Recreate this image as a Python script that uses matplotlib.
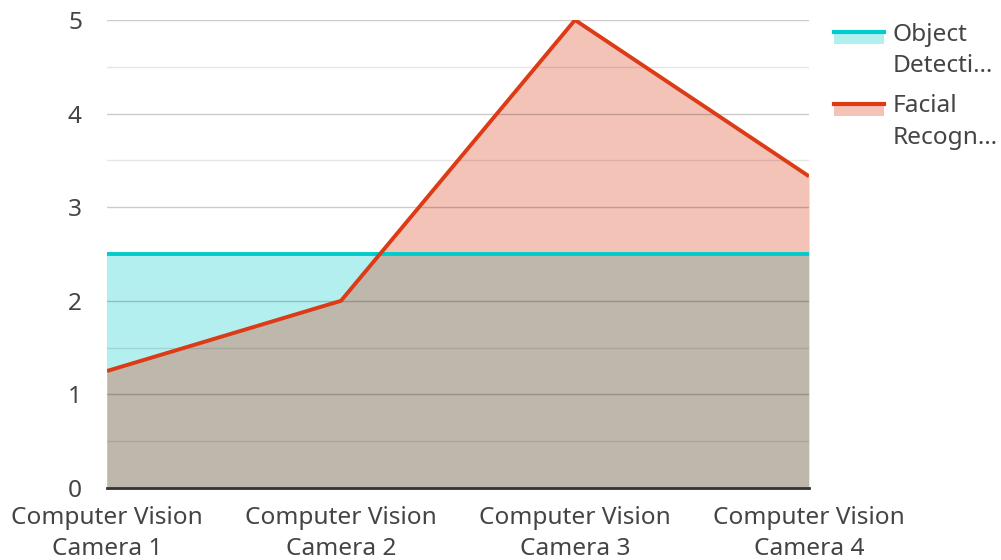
import numpy as np
import matplotlib.pyplot as plt
from matplotlib.lines import Line2D
from matplotlib.patches import Rectangle

plt.rcParams['font.family'] = ['Noto Sans', 'DejaVu Sans']

# data
cameras = ['Computer Vision\nCamera 1', 'Computer Vision\nCamera 2',
           'Computer Vision\nCamera 3', 'Computer Vision\nCamera 4']
object_detection = [2.5, 2.5, 2.5, 2.5]
facial_recognition = [1.25, 2.0, 5.0, 3.33]
series_names = ['Object\nDetecti…', 'Facial\nRecogn…']

teal = '#00CCCC'
teal_fill = '#B2EFEE'
red = '#DD3A16'
red_fill = '#F3C3B8'
overlap_fill = '#BEB7AC'
text_col = '#444444'
fs = 17.6

fig = plt.figure(figsize=(10.01, 5.6), dpi=100)
ax = fig.add_axes([107 / 1001, 1 - 488 / 560, (809 - 107) / 1001, (488 - 20) / 560])

x = np.arange(len(cameras))

# both areas, then the overlap = red area clipped to the teal area
teal_area = ax.fill_between(x, 0, object_detection, color=teal_fill, lw=0, zorder=1)
ax.fill_between(x, 0, facial_recognition, color=red_fill, lw=0, zorder=1)
overlap = ax.fill_between(x, 0, facial_recognition, color=overlap_fill, lw=0, zorder=1.5)
overlap.set_clip_path(teal_area.get_paths()[0], ax.transData)

ax.plot(x, object_detection, color=teal, lw=2.8, zorder=4, solid_capstyle='butt')
ax.plot(x, facial_recognition, color=red, lw=2.8, zorder=5, solid_capstyle='butt')

ax.set_xlim(0, len(cameras) - 1)
ax.set_ylim(0, 5)
ax.set_yticks([0, 1, 2, 3, 4, 5])
ax.set_yticks(np.arange(0.5, 5, 1), minor=True)
ax.grid(axis='y', which='major', color='black', alpha=0.2, lw=1, zorder=2)
ax.grid(axis='y', which='minor', color='black', alpha=0.1, lw=1, zorder=2)
ax.set_axisbelow(False)

ax.set_xticks(x)
ax.set_xticklabels(cameras, linespacing=1.36)
for s in ['top', 'right', 'left']:
    ax.spines[s].set_visible(False)
ax.spines['bottom'].set_color('#333333')
ax.spines['bottom'].set_linewidth(2)
ax.spines['bottom'].set_zorder(6)
ax.tick_params(axis='both', which='both', length=0, labelsize=fs, labelcolor=text_col)
ax.tick_params(axis='y', pad=18)
ax.tick_params(axis='x', pad=13)

# legend drawn by hand
legend_items = [(series_names[0], teal, teal_fill, 32, 41), (series_names[1], red, red_fill, 104, 112)]
for name, lc, fc, yline, ybase in legend_items:
    fig.add_artist(Rectangle((834 / 1001, 1 - (yline + 12) / 560), 50 / 1001, 13 / 560,
                             transform=fig.transFigure, color=fc, lw=0))
    fig.add_artist(Line2D([834 / 1001, 884 / 1001], [1 - yline / 560] * 2,
                          transform=fig.transFigure, color=lc, lw=3))
    for i, part in enumerate(name.split('\n')):
        fig.text(893 / 1001, 1 - (ybase + 31.5 * i) / 560, part, fontsize=fs, color=text_col,
                 va='baseline', ha='left')

fig.savefig('out.png', dpi=100)
